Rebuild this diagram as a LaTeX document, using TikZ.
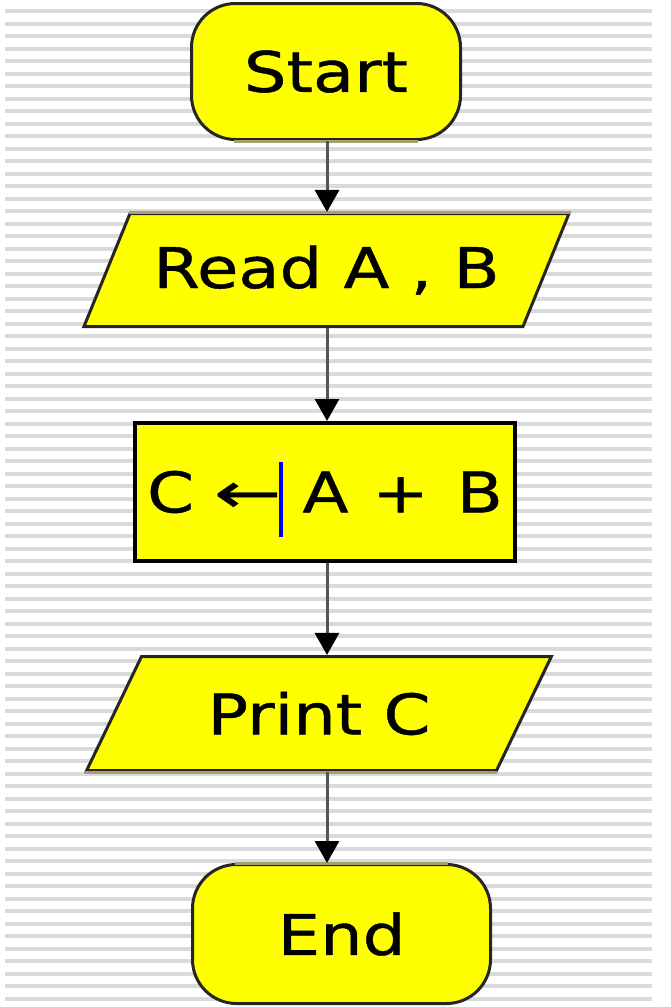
\documentclass[tikz,border=0pt]{standalone}
\usepackage{fontspec}
\newfontfamily\flowfont[FakeStretch=1.2,FakeBold=0.8]{DejaVu Sans}
\usetikzlibrary{shapes.geometric,arrows.meta}
\definecolor{flowyellow}{RGB}{255,255,0}
\definecolor{stripegray}{RGB}{218,218,218}
\definecolor{linegray}{RGB}{85,85,85}
\definecolor{olivegray}{RGB}{165,160,110}
\definecolor{cursorblue}{RGB}{0,0,255}
\begin{document}
\begin{tikzpicture}[x=1pt,y=-1pt,
  flowtext/.style={font=\flowfont\fontsize{56}{60}\selectfont, text=black},
  terminal/.style={rectangle, rounded corners=44pt, draw=black!85, line width=3pt,
    fill=flowyellow, inner sep=0pt, flowtext},
  iobox/.style={trapezium, trapezium stretches=true, draw=black!85, line width=3pt,
    fill=flowyellow, inner sep=0pt, flowtext},
  procbox/.style={rectangle, draw=black, line width=4pt, fill=flowyellow,
    inner sep=0pt, flowtext},
  flowarrow/.style={draw=linegray, line width=3pt, -{Triangle[width=24pt,length=22pt,black]}},
  oliveedge/.style={draw=olivegray, line width=3pt}]

% background and margins
\fill[white] (0,0) rectangle (670,1007);
\useasboundingbox (0,0) rectangle (670,1007);
\foreach \k in {0,...,79} {
  \fill[stripegray] (5,{9+12.5*\k}) rectangle (652,{13+12.5*\k});
}

% nodes
\node[terminal, minimum width=269pt, minimum height=136pt] (start) at (326,71.5) {Start};

\node[iobox, trapezium left angle=50.4, trapezium right angle=129.6,
      minimum width=486pt, minimum height=113pt] (read) at (326.5,270) {Read A , B};

\node[procbox, minimum width=380pt, minimum height=138pt] (calc) at (325,492)
  {C\hspace{20pt}\scalebox{1.2}[1]{←}\kern-3pt\smash{\textcolor{cursorblue}{\rule[-25pt]{4pt}{75pt}}}\hspace{20pt}A\hspace{24pt}+\hspace{28pt}B};

\node[iobox, trapezium left angle=51.5, trapezium right angle=128.5,
      minimum width=466pt, minimum height=114pt] (print) at (319,713.5) {Print C};

\node[terminal, minimum width=298pt, minimum height=139pt] (end) at (341.5,934) {End};

% shaded edges
\draw[oliveedge] (read.top left corner) -- (read.top right corner);
\draw[oliveedge] (print.bottom left corner) -- (print.bottom right corner);
\draw[oliveedge] ([xshift=44pt]start.south west) -- ([xshift=-44pt]start.south east);
\draw[oliveedge] ([xshift=44pt]end.north west) -- ([xshift=-44pt]end.north east);

% connectors
\coordinate (axis) at (327,0);
\draw[flowarrow] (start.south -| axis) -- (read.north -| axis);
\draw[flowarrow] (read.south -| axis) -- (calc.north -| axis);
\draw[flowarrow] (calc.south -| axis) -- (print.north -| axis);
\draw[flowarrow] (print.south -| axis) -- (end.north -| axis);
\end{tikzpicture}
\end{document}
